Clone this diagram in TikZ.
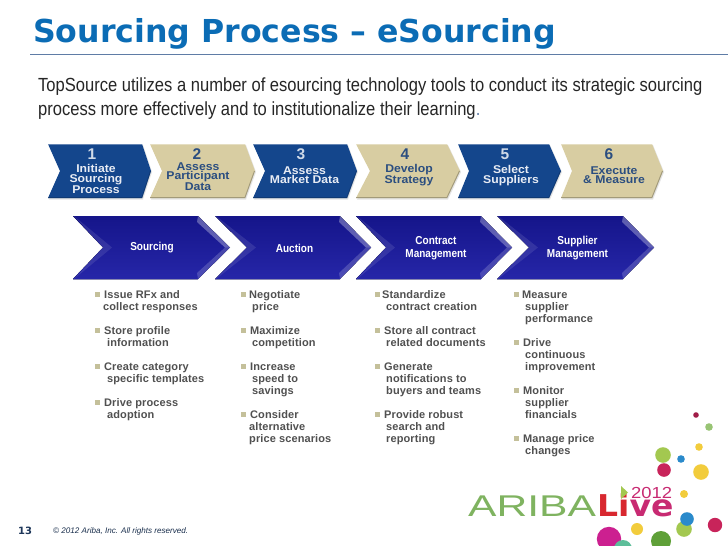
\documentclass[tikz,border=0pt]{standalone}
\usepackage{fontspec}
\setmainfont{Liberation Sans}
\newfontfamily\titlefont{DejaVu Sans}
\newfontfamily\logofont[FakeStretch=1.1]{DejaVu Sans}
\newfontfamily\aribafont[FakeStretch=1.42]{Liberation Sans}
\newfontfamily\yearfont[FakeStretch=1.15]{Liberation Sans}
\newfontfamily\bodyfont[FakeStretch=0.871]{Liberation Sans}
\newfontfamily\navyfont[FakeStretch=0.87]{Liberation Sans}
\newfontfamily\stepfont[FakeStretch=1.08]{Liberation Sans}
\newfontfamily\listfont[LetterSpace=1]{Liberation Sans}
\definecolor{titleblue}{HTML}{0B6CB5}
\definecolor{rulecol}{HTML}{5F7CA6}
\definecolor{stepblue}{HTML}{14468C}
\definecolor{steptan}{HTML}{D8CDA2}
\definecolor{steptext}{HTML}{2B4E80}
\definecolor{navytop}{HTML}{15158A}
\definecolor{navybot}{HTML}{2626A8}
\definecolor{listgray}{HTML}{505050}
\definecolor{bull}{HTML}{C4C09A}
\definecolor{dotyellow}{HTML}{F2CC3C}
\definecolor{dotgreen}{HTML}{A3C850}
\definecolor{dotcrimson}{HTML}{C8245A}
\definecolor{dotblue}{HTML}{2A8ACB}
\definecolor{dotmagenta}{HTML}{CC2090}
\definecolor{dotdeep}{HTML}{5FA038}
\definecolor{dotteal}{HTML}{5DBE9A}
\definecolor{liver}{HTML}{D8282F}
\definecolor{livem}{HTML}{C82A72}
\tikzset{
  sb/.style={fill=stepblue},
  st/.style={fill=steptan},
  navy/.style={top color=navytop,bottom color=navybot},
  steplab/.style={font=\stepfont\fontsize{11.3}{9.8}\selectfont\bfseries,align=center,inner sep=0pt},
  stepnum/.style={font=\fontsize{15.5}{16}\selectfont\bfseries,inner sep=0pt},
  navylab/.style={text=white,font=\navyfont\fontsize{11.5}{13}\selectfont\bfseries,align=center,inner sep=0pt},
  listtext/.style={text=listgray,font=\listfont\fontsize{11}{12}\selectfont\bfseries,anchor=base west,inner sep=0pt},
  bulletbox/.style={fill=bull,draw=none,minimum size=5pt,inner sep=0pt}
}
\newcommand{\stepchev}[6]{%
  \fill[black!30,opacity=.35] (#2+1,145) -- (#5+1,145) -- (#6+1,172) -- (#5+1,199.5) -- (#2+1,199.5) -- (#3+1,172) -- cycle;
  \fill[#1] (#2,144) -- (#5,144) -- (#6,171) -- (#5,198) -- (#2,198) -- (#3,171) -- cycle;
  \draw[#4,line width=1pt,opacity=.55] (#2,197.5) -- (#5,197.5) -- (#6-.5,171);
  \draw[white,line width=.8pt,opacity=.35] (#2,144.5) -- (#5,144.5);
}
\newcommand{\navychev}[4]{%
  \fill[navy] (#1,216) -- (#3,216) -- (#4,247.5) -- (#3,279) -- (#1,279) -- (#2,247.5) -- cycle;
  \fill[white,fill opacity=.30] (#3,216) -- (#4,247.5) -- (#4-5,247.5) -- (#3-1,222) -- cycle;
  \fill[white,fill opacity=.18] (#3,279) -- (#4,247.5) -- (#4-5,247.5) -- (#3-1,273) -- cycle;
  \fill[white,fill opacity=.10] (#1+1,216) -- (#2,247.5) -- (#2+9,247.5) -- cycle;
  \fill[white,fill opacity=.10] (#1+1,279) -- (#2,247.5) -- (#2+9,247.5) -- cycle;
  \draw[black!40!blue!40!gray,line width=.8pt,opacity=.5] (#1,279.5) -- (#3,279.5);
}
\newcommand{\li}[4]{\node[listtext] (#1) at (#2,#3+4) {#4};}
\begin{document}
\begin{tikzpicture}[x=1pt,y=-1pt]
\useasboundingbox (0,0) rectangle (728,546);
\fill[white] (0,0) rectangle (728,546);
% title
\node[anchor=base west,inner sep=0pt,text=titleblue,font=\titlefont\fontsize{31.6}{32}\selectfont\bfseries] (title) at (33,42.5) {Sourcing Process – eSourcing};
\coordinate (ruleA) at (30,54.3); \coordinate (ruleB) at (728,54.3);
\draw[rulecol,line width=1.6pt] (ruleA) -- (ruleB);
\node[anchor=base west,inner sep=0pt,text=black!85,font=\bodyfont\fontsize{19}{24}\selectfont] (intro1) at (38,91) {TopSource utilizes a number of esourcing technology tools to conduct its strategic sourcing};
\node[anchor=base west,inner sep=0pt,text=black!85,font=\bodyfont\fontsize{19}{24}\selectfont] (intro2) at (38,115) {process more effectively and to institutionalize their learning\textcolor{rulecol}{.}};
% step chevrons
\stepchev{sb}{48}{60}{stepblue!70!black}{142}{151}
\stepchev{st}{150}{162}{steptan!55!black}{245}{255}
\stepchev{sb}{253}{265}{stepblue!70!black}{347}{357}
\stepchev{st}{356}{370}{steptan!55!black}{447}{460}
\stepchev{sb}{458}{469}{stepblue!70!black}{549}{561}
\stepchev{st}{561}{572}{steptan!55!black}{652}{663}
\node[stepnum,text=white!80!stepblue] (n1) at (92,154.5) {1};
\node[steplab,text=white!90!stepblue] (t1) at (96,178.7) {Initiate\\Sourcing\\Process};
\node[stepnum,text=steptext] (n2) at (197,154.5) {2};
\node[steplab,text=steptext] (t2) at (198,176.7) {Assess\\Participant\\Data};
\node[stepnum,text=white!80!stepblue] (n3) at (301,154.5) {3};
\node[steplab,text=white!90!stepblue] (t3) at (304.5,175.2) {Assess\\Market Data};
\node[stepnum,text=steptext] (n4) at (405,154.5) {4};
\node[steplab,text=steptext] (t4) at (409,175.2) {Develop\\Strategy};
\node[stepnum,text=white!80!stepblue] (n5) at (505,154.5) {5};
\node[steplab,text=white!90!stepblue] (t5) at (511,175.2) {Select\\Suppliers};
\node[stepnum,text=steptext] (n6) at (609,154.5) {6};
\node[steplab,text=steptext] (t6) at (614,175.2) {Execute\\\& Measure};
% navy chevrons
\navychev{73}{103}{198}{230}
\navychev{215}{247}{340}{371}
\navychev{356}{386}{481}{512}
\navychev{497}{529}{623}{654}
\node[navylab] (s1) at (152,248) {Sourcing};
\node[navylab] (s2) at (294.5,248) {Auction};
\node[navylab] (s3) at (436,248) {Contract\\Management};
\node[navylab] (s4) at (577.5,248) {Supplier\\Management};
% bullets
\foreach \y in {294,330,366,402} \node[bulletbox] at (97,\y) {};
\foreach \y in {294,330,366,414} \node[bulletbox] at (243,\y) {};
\foreach \y in {294,330,366,414} \node[bulletbox] at (377,\y) {};
\foreach \y in {294,342,390,438} \node[bulletbox] at (516,\y) {};
% column 1
\li{a1}{104}{294}{Issue RFx and}
\li{a1b}{103}{306}{collect responses}
\li{a2}{104}{330}{Store profile}
\li{a2b}{107}{342}{information}
\li{a3}{104}{366}{Create category}
\li{a3b}{107}{378}{specific templates}
\li{a4}{104}{402}{Drive process}
\li{a4b}{107}{414}{adoption}
% column 2
\li{b1}{249}{294}{Negotiate}
\li{b1b}{252}{306}{price}
\li{b2}{250}{330}{Maximize}
\li{b2b}{252}{342}{competition}
\li{b3}{250}{366}{Increase}
\li{b3b}{252}{378}{speed to}
\li{b3c}{252}{390}{savings}
\li{b4}{250}{414}{Consider}
\li{b4b}{249}{426}{alternative}
\li{b4c}{249}{438}{price scenarios}
% column 3
\li{c1}{382}{294}{Standardize}
\li{c1b}{386}{306}{contract creation}
\li{c2}{384}{330}{Store all contract}
\li{c2b}{386}{342}{related documents}
\li{c3}{384}{366}{Generate}
\li{c3b}{386}{378}{notifications to}
\li{c3c}{386}{390}{buyers and teams}
\li{c4}{384}{414}{Provide robust}
\li{c4b}{386}{426}{search and}
\li{c4c}{386}{438}{reporting}
% column 4
\li{d1}{522}{294}{Measure}
\li{d1b}{525}{306}{supplier}
\li{d1c}{525}{318}{performance}
\li{d2}{523}{342}{Drive}
\li{d2b}{525}{354}{continuous}
\li{d2c}{525}{366}{improvement}
\li{d3}{523}{390}{Monitor}
\li{d3b}{525}{402}{supplier}
\li{d3c}{525}{414}{financials}
\li{d4}{523}{438}{Manage price}
\li{d4b}{525}{450}{changes}
% footer
\node[anchor=base west,inner sep=0pt,text=steptext!70!black,font=\titlefont\fontsize{10}{10}\selectfont\bfseries] (pg) at (18,534) {13};
\node[anchor=base west,inner sep=0pt,text=steptext!60!black,font=\fontsize{8.1}{9}\selectfont\itshape] (cr) at (53,533) {© 2012 Ariba, Inc. All rights reserved.};
% logo dots
\fill[dotcrimson!80!black] (696,415) circle (2.8);
\fill[dotteal!60!dotyellow] (709,427) circle (3.8);
\fill[dotyellow] (699,447) circle (3.8);
\fill[dotgreen] (663,455) circle (7.8);
\fill[dotblue] (681,459) circle (3.8);
\fill[dotcrimson] (664,470) circle (6.8);
\fill[dotyellow] (701,472) circle (7.8);
\fill[dotyellow] (684,494) circle (4);
\fill[dotgreen] (684,529) circle (7.8);
\fill[dotblue] (687,519) circle (6.8);
\fill[dotcrimson] (715,525) circle (7.2);
\fill[dotyellow] (637,529) circle (6);
\fill[dotmagenta] (609,539) circle (12.2);
\fill[dotteal] (623,549) circle (9);
\fill[dotdeep] (661,541) circle (10);
% logo text
\node[anchor=base west,inner sep=0pt,text=dotdeep!80!white,font=\aribafont\fontsize{30}{30}\selectfont] (ariba) at (468,516.5) {ARIBA};
\node[anchor=base west,inner sep=0pt,text=liver,font=\logofont\fontsize{30}{30}\selectfont\bfseries] (live) at (597,516.5) {Li\textcolor{livem}{ve}};
\node[anchor=base west,inner sep=0pt,text=livem,font=\yearfont\fontsize{16}{16}\selectfont] (year) at (631,498) {2012};
\fill[dotgreen] (621,486) -- (628,492.5) -- (621,499) -- cycle;
\end{tikzpicture}
\end{document}
